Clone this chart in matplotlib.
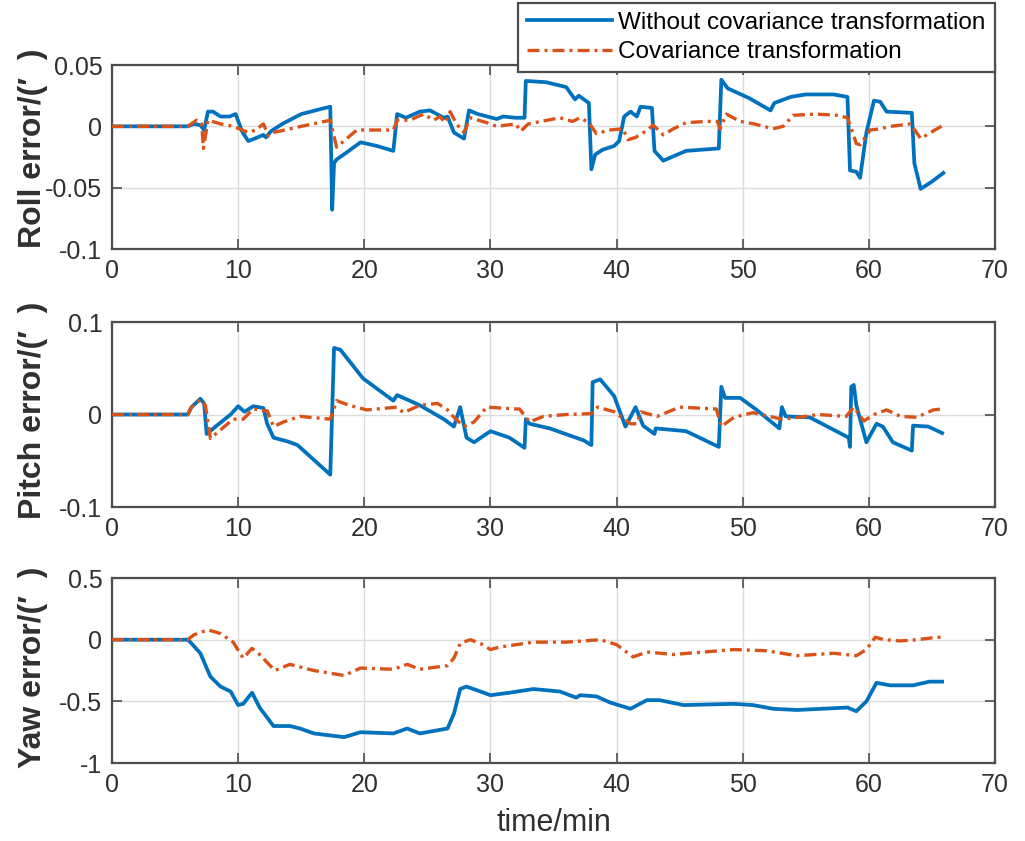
import matplotlib
matplotlib.use("Agg")
import matplotlib.pyplot as plt
from matplotlib.ticker import FuncFormatter

plt.rcParams['font.family'] = ['Liberation Sans', 'DejaVu Sans']
plt.rcParams['axes.unicode_minus'] = False

# ---- data (time in min, error in arcmin) ----
roll_wo_t = [0, 6.0, 6.5, 7.0, 7.3, 7.6, 8.0, 8.6, 9.3, 9.8, 10.3, 10.8, 11.3, 12.0, 12.2, 12.6,
             13.5, 15.0, 16.5, 17.3, 17.45, 17.6, 17.8, 18.5, 19.7, 21.0, 22.3, 22.6, 23.3, 24.4,
             25.2, 26.3, 26.6, 27.1, 27.9, 28.3, 29.0, 30.5, 31.0, 32.0, 32.7, 32.8, 34.4, 36.0,
             36.7, 37.0, 37.8, 38.0, 38.3, 38.9, 39.8, 40.2, 40.6, 41.1, 41.6, 41.9, 42.8, 43.0,
             43.7, 45.5, 48.1, 48.3, 48.8, 50.5, 52.2, 52.5, 53.8, 55.0, 57.2, 58.3, 58.5, 59.0,
             59.3, 59.8, 60.4, 60.9, 61.4, 63.4, 63.6, 64.1, 65.0, 65.9]
roll_wo = [0, 0, 0.002, 0.001, -0.003, 0.012, 0.012, 0.008, 0.008, 0.010, -0.004, -0.012, -0.010,
           -0.007, -0.009, -0.004, 0.002, 0.010, 0.014, 0.016, -0.068, -0.030, -0.027, -0.022,
           -0.013, -0.016, -0.020, 0.010, 0.007, 0.012, 0.013, 0.007, 0.008, -0.005, -0.010,
           0.013, 0.010, 0.006, 0.008, 0.007, 0.007, 0.037, 0.036, 0.032, 0.022, 0.025, 0.019,
           -0.035, -0.023, -0.019, -0.016, -0.012, 0.008, 0.012, 0.008, 0.016, 0.015, -0.020,
           -0.028, -0.020, -0.018, 0.038, 0.031, 0.023, 0.013, 0.019, 0.024, 0.026, 0.026, 0.024,
           -0.036, -0.037, -0.042, -0.005, 0.021, 0.020, 0.012, 0.011, -0.030, -0.051, -0.045,
           -0.038]

roll_cv_t = [0, 6.0, 6.7, 7.1, 7.25, 7.6, 8.6, 9.6, 10.8, 11.4, 12.0, 12.4, 12.8, 15.0, 17.3,
             17.8, 18.6, 19.4, 22.3, 22.6, 23.6, 24.7, 25.5, 26.0, 26.4, 26.8, 27.3, 27.9, 28.4,
             29.7, 30.5, 32.0, 32.4, 33.0, 35.5, 36.5, 37.1, 37.8, 38.4, 39.4, 40.5, 40.9, 41.5,
             42.3, 42.9, 43.7, 44.5, 45.5, 47.1, 48.0, 48.2, 48.7, 49.8, 50.9, 52.4, 53.2, 54.0,
             55.8, 57.5, 58.3, 59.0, 59.3, 60.1, 60.9, 61.7, 63.3, 64.1, 64.9, 65.9]
roll_cv = [0, 0, 0.005, 0.002, -0.018, 0.005, 0.002, 0.0, -0.005, -0.003, 0.002, -0.008, -0.005,
           0.000, 0.005, -0.017, -0.010, -0.003, -0.003, 0.005, 0.005, 0.010, 0.005, 0.008, 0.003,
           0.012, 0.002, -0.005, 0.007, 0.003, 0.0, 0.002, -0.004, 0.002, 0.007, 0.004, 0.007,
           0.003, -0.006, -0.003, -0.002, -0.011, -0.009, -0.004, 0.001, -0.007, -0.002, 0.003,
           0.004, 0.004, -0.002, 0.010, 0.004, 0.002, -0.002, 0.000, 0.009, 0.010, 0.009, 0.007,
           -0.014, -0.015, -0.003, -0.002, 0.000, 0.002, -0.010, -0.005, 0.001]

pitch_wo_t = [0, 6.0, 6.3, 7.0, 7.3, 7.5, 8.3, 9.4, 10.0, 10.5, 11.2, 12.0, 12.3, 12.8, 13.9,
              14.7, 16.0, 17.3, 17.6, 18.1, 19.9, 21.3, 22.3, 22.6, 24.4, 26.3, 27.1, 27.6, 28.1,
              28.7, 30.0, 31.5, 32.7, 32.8, 33.1, 34.7, 37.4, 38.0, 38.1, 38.7, 39.8, 40.7, 41.5,
              42.1, 43.0, 43.1, 45.5, 48.1, 48.3, 48.6, 49.8, 51.1, 52.9, 53.1, 53.4, 55.3, 58.4,
              58.5, 58.6, 58.8, 59.0, 59.8, 60.6, 61.1, 61.9, 63.4, 63.5, 64.7, 65.8]
pitch_wo = [0, 0, 0.008, 0.017, 0.012, -0.021, -0.012, 0.000, 0.009, 0.003, 0.009, 0.007, -0.010,
            -0.025, -0.029, -0.033, -0.049, -0.065, 0.072, 0.070, 0.039, 0.025, 0.015, 0.021,
            0.010, -0.005, -0.013, 0.008, -0.025, -0.030, -0.018, -0.025, -0.036, -0.005, -0.010,
            -0.015, -0.028, -0.033, 0.035, 0.038, 0.020, -0.013, 0.008, -0.012, -0.021, -0.015,
            -0.018, -0.035, 0.030, 0.018, 0.018, 0.005, -0.015, 0.008, -0.002, -0.003, -0.025,
            -0.035, 0.030, 0.032, 0.010, -0.030, -0.010, -0.013, -0.030, -0.039, -0.012, -0.013,
            -0.020]

pitch_cv_t = [0, 6.0, 6.3, 7.0, 7.4, 7.8, 8.3, 9.6, 10.4, 11.2, 12.3, 12.8, 13.6, 14.9, 17.3,
              17.8, 18.8, 20.2, 22.6, 23.1, 24.4, 25.8, 26.6, 27.1, 27.9, 28.7, 29.7, 32.1, 32.3,
              33.1, 34.2, 36.0, 38.0, 38.5, 39.8, 41.1, 41.6, 41.9, 43.2, 45.0, 47.9, 48.3, 49.3,
              50.8, 53.1, 54.4, 56.0, 58.2, 58.8, 59.6, 60.4, 61.4, 62.5, 63.8, 65.1, 65.8]
pitch_cv = [0, 0, 0.008, 0.016, 0.010, -0.026, -0.020, -0.005, -0.005, 0.006, 0.004, -0.013,
            -0.008, -0.002, -0.005, 0.015, 0.010, 0.005, 0.008, 0.002, 0.010, 0.012, 0.005,
            -0.003, -0.013, -0.008, 0.008, 0.006, 0.006, -0.008, -0.002, 0.000, 0.001, 0.008,
            0.003, -0.010, -0.010, 0.003, -0.002, 0.008, 0.006, -0.013, -0.003, 0.002, -0.005,
            -0.003, 0.000, -0.002, 0.008, -0.007, 0.000, 0.005, -0.002, -0.003, 0.005, 0.006]

yaw_wo_t = [0, 6.0, 6.3, 7.0, 7.8, 8.6, 9.4, 10.0, 10.4, 11.1, 11.7, 12.8, 14.1, 14.9, 16.0,
            18.4, 19.7, 22.3, 23.4, 24.4, 26.6, 27.1, 27.6, 28.1, 29.2, 30.0, 31.5, 33.4, 35.5,
            36.8, 37.1, 38.4, 39.5, 41.1, 42.4, 43.4, 45.3, 49.3, 50.8, 52.4, 54.3, 58.3, 59.0,
            59.8, 60.6, 61.7, 63.5, 64.8, 65.8]
yaw_wo = [0, 0, -0.03, -0.11, -0.30, -0.38, -0.42, -0.53, -0.52, -0.43, -0.55, -0.70, -0.70,
          -0.72, -0.76, -0.79, -0.75, -0.76, -0.72, -0.76, -0.72, -0.60, -0.40, -0.38, -0.42,
          -0.45, -0.43, -0.40, -0.42, -0.47, -0.45, -0.46, -0.51, -0.56, -0.49, -0.49, -0.53,
          -0.52, -0.53, -0.56, -0.57, -0.55, -0.58, -0.50, -0.35, -0.37, -0.37, -0.34, -0.34]

yaw_cv_t = [0, 6.0, 6.5, 7.6, 8.6, 9.6, 10.4, 11.1, 11.7, 12.9, 14.1, 16.0, 18.4, 19.7, 22.3,
            23.4, 24.4, 26.6, 27.1, 27.6, 28.4, 29.2, 30.0, 30.7, 33.4, 36.0, 38.7, 40.0, 41.3,
            42.4, 44.5, 49.3, 51.9, 54.3, 57.2, 59.0, 59.8, 60.5, 61.2, 62.5, 63.8, 65.4, 65.8]
yaw_cv = [0, 0, 0.04, 0.08, 0.05, -0.02, -0.15, -0.07, -0.12, -0.25, -0.20, -0.25, -0.29, -0.23,
          -0.24, -0.20, -0.24, -0.21, -0.15, -0.03, 0.00, -0.03, -0.08, -0.06, -0.02, -0.02,
          0.00, -0.04, -0.14, -0.10, -0.12, -0.08, -0.09, -0.13, -0.11, -0.13, -0.08, 0.02,
          0.00, -0.01, 0.00, 0.02, 0.02]

labels = ["Without covariance transformation", "Covariance transformation"]
ylabels = ["Roll error/(\u2032  )", "Pitch error/(\u2032  )", "Yaw error/(\u2032  )"]
yticks = [[-0.1, -0.05, 0, 0.05], [-0.1, 0, 0.1], [-1, -0.5, 0, 0.5]]
ylims = [(-0.1, 0.05), (-0.1, 0.1), (-1, 0.5)]
xticks = [0, 10, 20, 30, 40, 50, 60, 70]

blue = '#0072BD'
orange = '#D95319'
edge = '#4d4d4d'
txt = '#303030'

fig = plt.figure(figsize=(10.25, 8.41), dpi=100)
rects = [[0.1093, 0.7039, 0.8615, 0.2188],
         [0.1093, 0.3971, 0.8615, 0.2200],
         [0.1093, 0.0927, 0.8615, 0.2200]]
series = [(roll_wo_t, roll_wo, roll_cv_t, roll_cv),
          (pitch_wo_t, pitch_wo, pitch_cv_t, pitch_cv),
          (yaw_wo_t, yaw_wo, yaw_cv_t, yaw_cv)]
label_y = [0.545, 0.525, 0.515]

fmt = FuncFormatter(lambda v, p: '%g' % v)
handles = None
for i in range(3):
    ax = fig.add_axes(rects[i])
    t1, v1, t2, v2 = series[i]
    h1, = ax.plot(t1, v1, color=blue, lw=2.7, zorder=3)
    h2, = ax.plot(t2, v2, color=orange, lw=2.4, zorder=4,
                  linestyle=(0, (3.6, 1.5, 0.9, 1.5)))
    handles = [h1, h2]
    ax.set_xlim(0, 70)
    ax.set_ylim(*ylims[i])
    ax.set_xticks(xticks)
    ax.set_yticks(yticks[i])
    ax.yaxis.set_major_formatter(fmt)
    ax.grid(True, color='#dcdcdc', lw=1.0)
    ax.set_axisbelow(True)
    ax.tick_params(direction='in', length=7, width=1.2, colors=edge,
                   labelcolor=txt, labelsize=18, pad=7,
                   top=True, right=True)
    for s in ax.spines.values():
        s.set_color(edge)
        s.set_linewidth(1.6)
    ax.set_ylabel(ylabels[i], fontsize=23, fontweight='bold', color=txt)
    ax.yaxis.set_label_coords(-0.073, label_y[i])
    if i == 2:
        ax.set_xlabel('time/min', fontsize=22, color=txt, labelpad=8)

leg = fig.legend(handles, labels, loc='upper right',
                 bbox_to_anchor=(0.9707, 0.997), borderaxespad=0,
                 fontsize=17.5, handlelength=3.5, handletextpad=0.25,
                 labelspacing=0.3, borderpad=0.38, fancybox=False,
                 framealpha=1, edgecolor=edge)
leg.get_frame().set_linewidth(1.6)
leg.set_zorder(10)

fig.savefig('out.png', dpi=100)
